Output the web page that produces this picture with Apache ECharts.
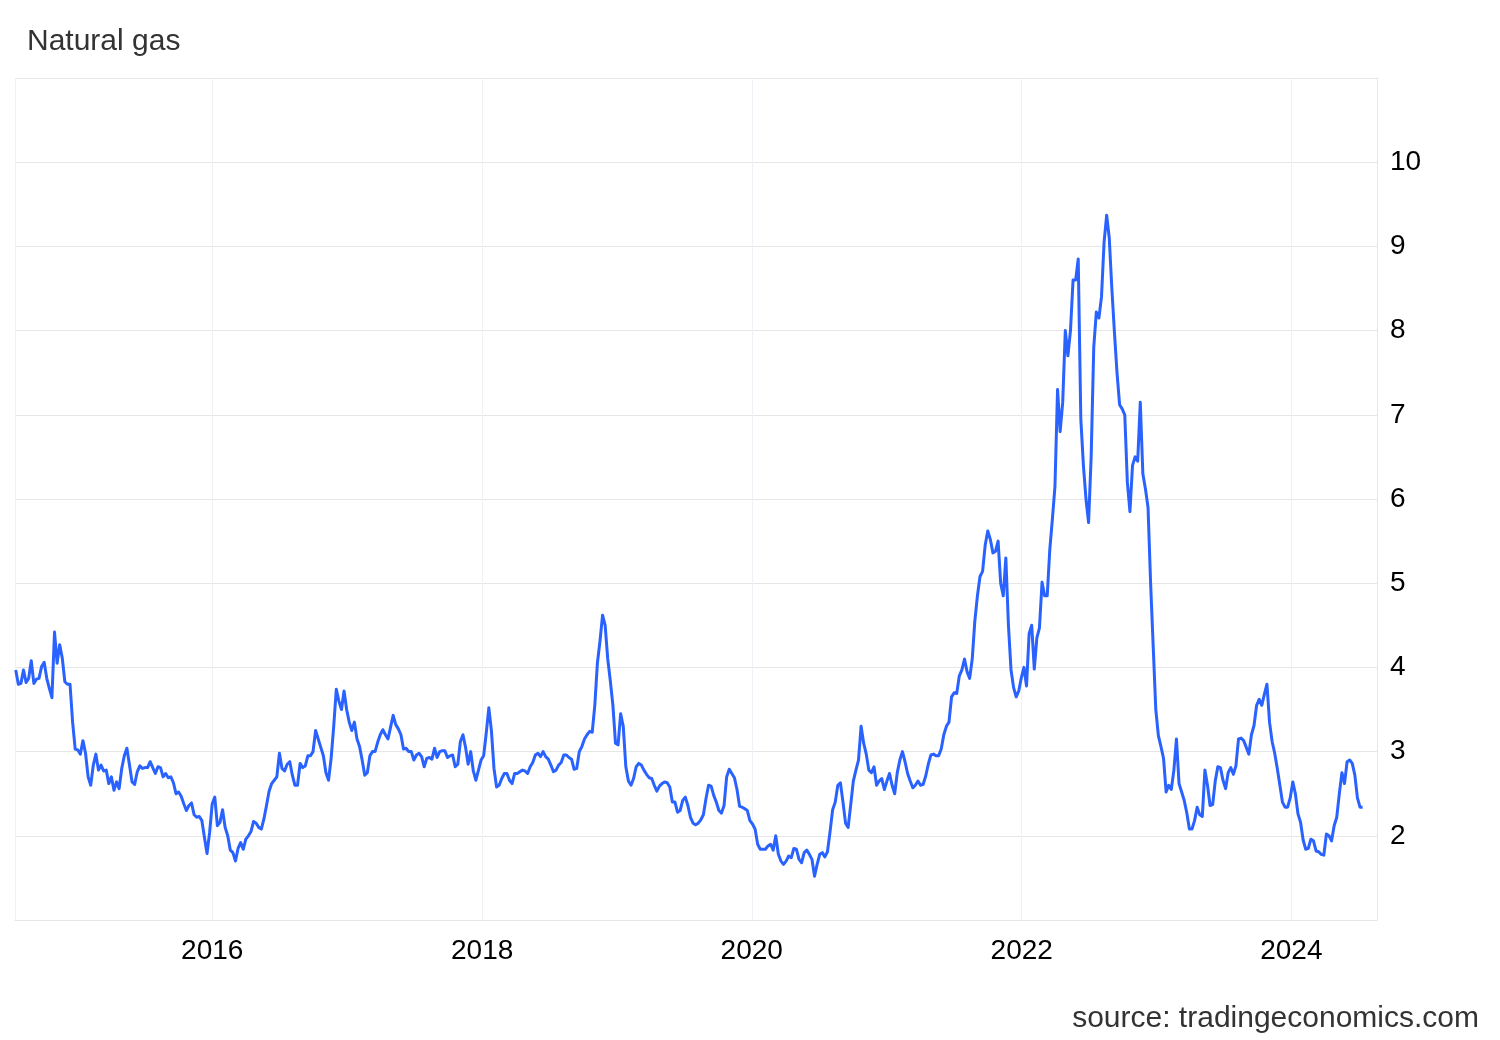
<!DOCTYPE html>
<html>
<head>
<meta charset="utf-8">
<title>Natural gas</title>
<script src="https://cdn.jsdelivr.net/npm/echarts@6/dist/echarts.min.js"></script>
<style>
  html, body { margin: 0; padding: 0; background: #fff; }
  #chart { width: 1500px; height: 1040px; }
</style>
</head>
<body>
<div id="chart"></div>
<script>
// weekly closes, first week ending 2014-07-18
var startDate = '2014-07-18';

var gas2014_2015 = [
  3.97, 3.80, 3.81, 3.97, 3.82, 3.87, 4.08, 3.81, 3.86, 3.87,
  4.01, 4.06, 3.87, 3.75, 3.64, 4.42, 4.05, 4.27, 4.11, 3.83,
  3.80, 3.80, 3.35, 3.03, 3.02, 2.97, 3.13, 2.98, 2.70, 2.60,
  2.84, 2.97, 2.78, 2.84, 2.77, 2.78, 2.62, 2.70, 2.54, 2.64,
  2.56, 2.80, 2.95, 3.04, 2.84, 2.64, 2.61, 2.76, 2.83, 2.80,
  2.81, 2.81, 2.88, 2.81, 2.74, 2.82, 2.81, 2.70, 2.74, 2.69,
  2.70, 2.63, 2.50, 2.52, 2.47, 2.38, 2.30, 2.36, 2.39, 2.25,
  2.22, 2.23, 2.18, 1.98, 1.79, 2.04, 2.38, 2.46, 2.12, 2.16,
  2.31, 2.10, 2.00, 1.83, 1.80, 1.70, 1.85, 1.92, 1.84, 1.96,
  2.00, 2.05, 2.17, 2.15
];
var gas2016_2017 = [
  2.10, 2.08, 2.20, 2.36, 2.53, 2.62, 2.66, 2.70, 2.98, 2.80,
  2.77, 2.85, 2.88, 2.72, 2.60, 2.60, 2.86, 2.81, 2.83, 2.95,
  2.95, 3.00, 3.25, 3.15, 3.05, 2.95, 2.75, 2.66, 2.92, 3.30,
  3.74, 3.60, 3.50, 3.72, 3.50, 3.35, 3.25, 3.35, 3.15, 3.06,
  2.90, 2.72, 2.75, 2.95, 3.00, 3.00, 3.11, 3.20, 3.26, 3.20,
  3.15, 3.29, 3.43, 3.32, 3.27, 3.20, 3.03, 3.04, 3.00, 3.00,
  2.90, 2.96, 2.98, 2.94, 2.82, 2.92, 2.93, 2.91, 3.04, 2.93,
  3.00, 3.01, 3.01, 2.93, 2.95, 2.96, 2.82, 2.85, 3.12, 3.20,
  3.05, 2.85, 3.00, 2.77, 2.66, 2.78, 2.90, 2.95, 3.22, 3.52
];
var gas2018_2019 = [
  3.25, 2.80, 2.58, 2.60, 2.68, 2.74, 2.74, 2.66, 2.62, 2.74,
  2.74, 2.76, 2.78, 2.77, 2.74, 2.82, 2.87, 2.96, 2.98, 2.94,
  3.00, 2.94, 2.91, 2.84, 2.76, 2.78, 2.84, 2.87, 2.96, 2.96,
  2.93, 2.91, 2.79, 2.80, 3.00, 3.06, 3.15, 3.20, 3.24, 3.23,
  3.55, 4.05, 4.31, 4.62, 4.50, 4.10, 3.84, 3.55, 3.10, 3.08,
  3.45, 3.30, 2.82, 2.65, 2.60, 2.68, 2.82, 2.86, 2.84, 2.78,
  2.73, 2.69, 2.68, 2.60, 2.53, 2.59, 2.62, 2.64, 2.63, 2.58,
  2.40, 2.40, 2.28, 2.30, 2.42, 2.46, 2.36, 2.22, 2.15, 2.13,
  2.15, 2.19, 2.25, 2.44, 2.60, 2.59, 2.48, 2.40, 2.30, 2.27,
  2.36, 2.70, 2.79, 2.74, 2.69, 2.55, 2.35, 2.34, 2.32, 2.30,
  2.18, 2.14, 2.08, 1.90
];
var gas2020_2021 = [
  1.84, 1.84, 1.84, 1.88, 1.90, 1.83, 2.00, 1.78, 1.70, 1.66,
  1.70, 1.76, 1.74, 1.85, 1.84, 1.72, 1.68, 1.80, 1.83, 1.78,
  1.72, 1.52, 1.66, 1.78, 1.80, 1.75, 1.81, 2.05, 2.31, 2.40,
  2.60, 2.63, 2.40, 2.15, 2.10, 2.37, 2.65, 2.78, 2.90, 3.30,
  3.10, 2.97, 2.78, 2.75, 2.82, 2.60, 2.65, 2.68, 2.55, 2.65,
  2.74, 2.60, 2.50, 2.75, 2.90, 3.00, 2.88, 2.74, 2.65, 2.57,
  2.60, 2.65, 2.60, 2.61, 2.71, 2.85, 2.96, 2.97, 2.95, 2.95,
  3.03, 3.20, 3.30, 3.35, 3.65, 3.70, 3.69, 3.90, 3.97, 4.10,
  3.95, 3.87, 4.10, 4.55, 4.85, 5.08, 5.14, 5.45, 5.62, 5.52,
  5.36, 5.38, 5.50, 5.00, 4.85, 5.30, 4.50, 3.97, 3.76, 3.65
];
var gas2022 = [
  3.72, 3.88, 4.00, 3.78, 4.40, 4.50, 3.98, 4.35, 4.47, 5.01,
  4.85, 4.85, 5.40, 5.76, 6.15, 7.30, 6.80, 7.15, 8.00, 7.70,
  8.00, 8.60, 8.60, 8.85, 6.95, 6.40, 6.00, 5.72, 6.50, 7.80,
  8.22, 8.15, 8.40, 9.05, 9.37, 9.10, 8.50, 7.98, 7.50, 7.12,
  7.07, 7.00, 6.20, 5.85, 6.40, 6.50, 6.45, 7.15, 6.30, 6.12,
  5.90, 5.00, 4.25
];
var gas2023_2024 = [
  3.50, 3.19, 3.06, 2.92, 2.52, 2.60, 2.55, 2.78, 3.15, 2.62,
  2.52, 2.42, 2.27, 2.08, 2.08, 2.18, 2.34, 2.25, 2.23, 2.78,
  2.60, 2.36, 2.37, 2.65, 2.82, 2.81, 2.66, 2.56, 2.75, 2.81,
  2.73, 2.83, 3.15, 3.16, 3.13, 3.05, 2.97, 3.20, 3.31, 3.55,
  3.62, 3.55, 3.68, 3.80, 3.35, 3.12, 2.98, 2.80, 2.60, 2.40,
  2.34, 2.34, 2.45, 2.64, 2.50, 2.26, 2.16, 1.95, 1.84, 1.85,
  1.96, 1.94, 1.82, 1.81, 1.78, 1.77, 2.02, 2.00, 1.94, 2.12,
  2.22, 2.50, 2.75, 2.62, 2.88, 2.90, 2.86, 2.72, 2.45, 2.34,
  2.34
];

var yTicks = [2, 3, 4, 5, 6, 7, 8, 9, 10];
var xYears = [2016, 2018, 2020, 2022, 2024];

var values = [].concat(gas2014_2015, gas2016_2017, gas2018_2019,
  gas2020_2021, gas2022, gas2023_2024);

var WEEK = 7 * 24 * 3600 * 1000;
var t0 = new Date(startDate + 'T00:00:00Z').getTime();
var seriesData = values.map(function (v, i) { return [t0 + i * WEEK, v]; });

var FONT = 'Arial, "Liberation Sans", Helvetica, sans-serif';

var chart = echarts.init(document.getElementById('chart'));
var option = {
  animation: false,
  backgroundColor: '#ffffff',
  textStyle: { fontFamily: FONT },
  title: [
    {
      text: 'Natural gas',
      left: 22,
      top: 22,
      textStyle: { fontFamily: FONT, fontSize: 30, fontWeight: 'normal', color: '#333333' }
    },
    {
      text: 'source: tradingeconomics.com',
      right: 16,
      bottom: 1,
      textStyle: { fontFamily: FONT, fontSize: 30, fontWeight: 'normal', color: '#333333' }
    }
  ],
  grid: { left: 15, right: 123, top: 78, bottom: 120, containLabel: false },
  xAxis: {
    type: 'time',
    min: new Date('2014-07-16T00:00:00Z').getTime(),
    max: new Date('2024-08-20T00:00:00Z').getTime(),
    minInterval: 730 * 24 * 3600 * 1000,
    maxInterval: 730 * 24 * 3600 * 1000,
    axisLine: { show: true, lineStyle: { color: '#e6e6e6', width: 1 } },
    axisTick: { show: false },
    splitLine: { show: true, lineStyle: { color: '#eef1f6', width: 1 } },
    axisLabel: {
      fontFamily: FONT,
      fontSize: 28,
      color: '#000000',
      margin: 17,
      hideOverlap: false,
      formatter: function (val) {
        var y = new Date(val).getUTCFullYear();
        return xYears.indexOf(y) >= 0 ? String(y) : '';
      }
    }
  },
  yAxis: {
    type: 'value',
    position: 'right',
    min: 1,
    max: 11,
    interval: 1,
    axisLine: { show: true, lineStyle: { color: '#e6e6e6', width: 1 } },
    axisTick: { show: false },
    splitLine: { show: true, lineStyle: { color: '#e6e6e6', width: 1 } },
    axisLabel: {
      fontFamily: FONT,
      fontSize: 28,
      color: '#000000',
      margin: 13,
      formatter: function (v) {
        return yTicks.indexOf(v) >= 0 ? String(v) : '';
      }
    }
  },
  series: [
    {
      name: 'Natural gas',
      type: 'line',
      data: seriesData,
      showSymbol: false,
      symbol: 'none',
      smooth: false,
      lineStyle: { color: '#2962ff', width: 3, join: 'round' },
      itemStyle: { color: '#2962ff' }
    }
  ]
};
chart.setOption(option);
</script>
</body>
</html>
